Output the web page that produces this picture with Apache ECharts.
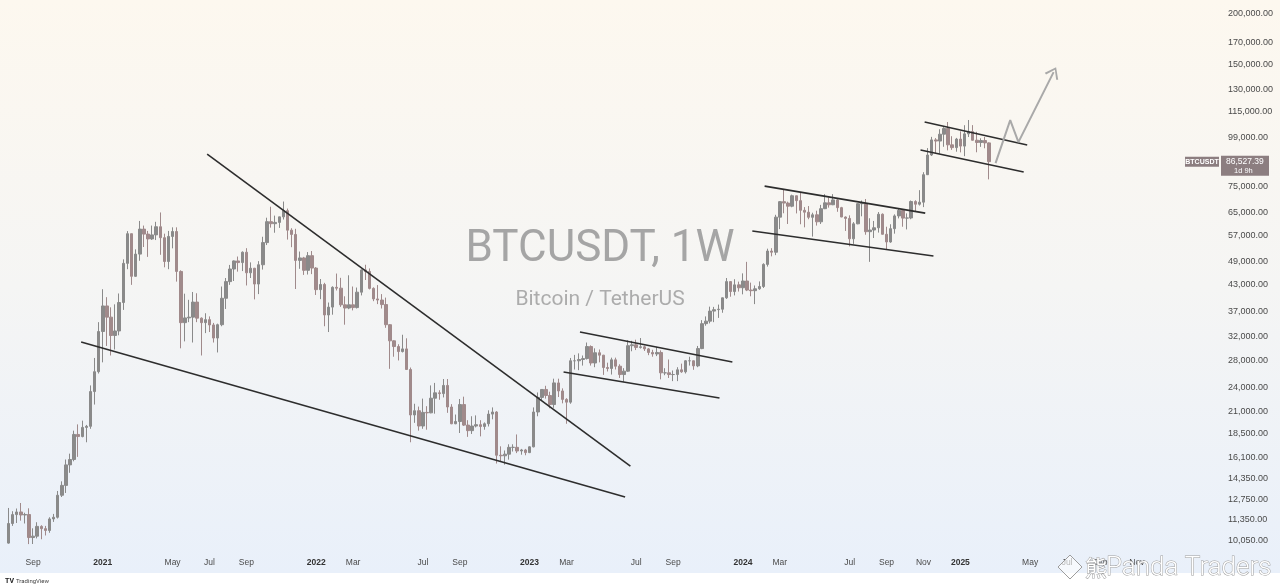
<!DOCTYPE html>
<html>
<head>
<meta charset="utf-8">
<title>BTCUSDT 1W</title>
<script src="https://cdn.jsdelivr.net/npm/echarts@6/dist/echarts.min.js"></script>
<style>
  html, body { margin: 0; padding: 0; background: #fff; }
  #chart { width: 1280px; height: 588px; }
</style>
</head>
<body>
<div id="chart"></div>
<script>
// weekly candles [open, high, low, close], one row per week, first week opens Mon 2020-07-27
const candles2020 = [
  [9930, 12123, 9900, 11100], [11100, 11900, 10950, 11675], [11675, 12085, 11130, 11850],
  [11850, 12470, 11280, 11650], [11650, 11800, 11100, 11680], [11680, 12100, 9875, 10250],
  [10250, 10800, 9880, 10330], [10330, 11180, 10200, 10920], [10920, 10990, 10150, 10780],
  [10780, 10950, 10370, 10670], [10670, 11500, 10530, 11390], [11390, 11720, 11200, 11500],
  [11500, 13350, 11420, 13030], [13030, 14100, 12900, 13780], [13780, 15960, 13200, 15480],
  [15480, 16500, 14800, 15960], [15960, 18800, 15800, 18400], [18400, 19480, 16200, 18180],
  [18180, 19900, 18100, 19150], [19150, 19420, 17600, 19270], [19270, 24300, 19000, 23470],
  [23470, 28400, 21800, 26270], [26270, 34800, 26000, 33000]
]
const candles2021 = [
  [33000, 41950, 27700, 38150], [38150, 40100, 30400, 35800], [35800, 37850, 28800, 32260],
  [32260, 38500, 29800, 33100], [33100, 40950, 32300, 38900], [38900, 49700, 37300, 48580],
  [48580, 58350, 47000, 57490], [57490, 57500, 43000, 45140], [45140, 52600, 45000, 51200],
  [51200, 61800, 49300, 59000], [59000, 60200, 53300, 57350], [57350, 58400, 50400, 55800],
  [55800, 60200, 55500, 57100], [57100, 61500, 55450, 59800], [59800, 64850, 51000, 56200],
  [56200, 57500, 47500, 49100], [49100, 58400, 47000, 56600], [56600, 59600, 52900, 58200],
  [58200, 59600, 43800, 46400], [46400, 46700, 30000, 34700], [34700, 40900, 31200, 35650],
  [35650, 39500, 34800, 35800], [35800, 41300, 31000, 39000], [39000, 41000, 34800, 35600],
  [35600, 35750, 28800, 34700], [34700, 36600, 32700, 35300], [35300, 35950, 32900, 34250],
  [34250, 34650, 31000, 31800], [31800, 34500, 29300, 34300], [34300, 42600, 34000, 39850],
  [39850, 44700, 37500, 43800], [43800, 48150, 43000, 47050], [47050, 49400, 43950, 49250],
  [49250, 50500, 46350, 48800], [48800, 52000, 46500, 51750], [51750, 52950, 42850, 46050],
  [46050, 48850, 44700, 47250], [47250, 47350, 39600, 43200], [43200, 49200, 40800, 48200],
  [48200, 56500, 46900, 54660], [54660, 62950, 53900, 61550], [61550, 67000, 59500, 60850],
  [60850, 63700, 57800, 61300], [61300, 63300, 59400, 63250], [63250, 69000, 62300, 65500],
  [65500, 66300, 55600, 58650], [58650, 59300, 53250, 57250], [57250, 59100, 42000, 49400],
  [49400, 51950, 47100, 50100], [50100, 50400, 45500, 46700], [46700, 51800, 45600, 50750],
  [50750, 52100, 45700, 47300]
]
const candles2022 = [
  [47300, 47550, 40600, 41850], [41850, 44450, 39650, 43100], [43100, 43500, 34000, 36250],
  [36250, 38900, 32900, 37900], [37900, 42650, 36300, 42400], [42400, 45850, 41650, 42200],
  [42200, 44750, 37950, 38400], [38400, 40300, 34300, 37700], [37700, 45400, 37450, 38400],
  [38400, 42600, 37200, 37800], [37800, 42350, 37600, 41250], [41250, 46950, 40500, 46800],
  [46800, 48200, 44200, 46400], [46400, 47200, 41900, 42150], [42150, 42400, 39200, 39700],
  [39700, 42950, 38550, 39450], [39450, 40800, 37600, 38450], [38450, 40000, 33700, 34300],
  [34300, 34400, 26700, 31300], [31300, 31400, 28600, 30300], [30300, 30700, 28000, 29450],
  [29450, 32400, 29300, 29900], [29900, 31750, 26550, 26600], [26600, 26900, 17600, 20550],
  [20550, 21900, 19650, 21050], [21050, 21550, 18800, 19300], [19300, 22550, 19000, 20850],
  [20850, 21600, 18900, 20800], [20800, 24300, 20750, 22600], [22600, 24650, 20700, 23300],
  [23300, 23650, 22400, 23200], [23200, 25200, 22700, 24300], [24300, 25200, 20800, 21500],
  [21500, 21850, 19500, 19550], [19550, 20600, 19500, 19800], [19800, 22500, 18550, 21800],
  [21800, 22800, 19300, 19400], [19400, 19950, 18150, 18800], [18800, 20400, 18450, 19300],
  [19300, 20500, 19150, 19450], [19450, 19950, 18200, 19250], [19250, 19700, 18900, 19550],
  [19550, 21100, 19250, 20650], [20650, 21450, 20050, 20900], [20900, 21000, 15600, 16350],
  [16350, 17200, 15800, 16300], [16300, 16800, 15500, 16450], [16450, 17400, 15950, 17100],
  [17100, 17400, 16700, 17100], [17100, 18400, 16550, 16750], [16750, 16950, 16400, 16850],
  [16850, 16950, 16350, 16600]
]
const candles2023 = [
  [16600, 17200, 16550, 17150], [17150, 21450, 17100, 20900], [20900, 23350, 20400, 22700],
  [22700, 23800, 22300, 23750], [23750, 24250, 22550, 22950], [22950, 23450, 21350, 21800],
  [21800, 25250, 21400, 24650], [24650, 25250, 22750, 23550], [23550, 23900, 21950, 22450],
  [22450, 22600, 19550, 22100], [22100, 28400, 21900, 27950], [27950, 28900, 26600, 27950],
  [27950, 29150, 26500, 28150], [28150, 28800, 27200, 28300], [28300, 31000, 28150, 30300],
  [30300, 30500, 27200, 27600], [27600, 30000, 26950, 29250], [29250, 29800, 27700, 28850],
  [28850, 28900, 25800, 26900], [26900, 27650, 26300, 26750], [26750, 28450, 25850, 28100],
  [28100, 28450, 26600, 27100], [27100, 27400, 25350, 25850], [25850, 26800, 24800, 26350],
  [26350, 31400, 26250, 30450], [30450, 31300, 29500, 30600], [30600, 31500, 29700, 30150],
  [30150, 31800, 29950, 30250], [30250, 30450, 29550, 29900], [29900, 30050, 28850, 29300],
  [29300, 29750, 28600, 29050], [29050, 30250, 28700, 29300], [29300, 29650, 25150, 26100],
  [26100, 26800, 25750, 26100], [26100, 28150, 25350, 25850], [25850, 26450, 24900, 25850],
  [25850, 26950, 24900, 26550], [26550, 27500, 26100, 26250], [26250, 28050, 26000, 27950],
  [27950, 28600, 27200, 27950], [27950, 28000, 26550, 27150], [27150, 30400, 26950, 29950],
  [29950, 35200, 29850, 34500], [34500, 35950, 34100, 35000], [35000, 38000, 34550, 37050],
  [37050, 37950, 34800, 37350], [37350, 38450, 35650, 37450], [37450, 40000, 36700, 39950],
  [39950, 44700, 39700, 43800], [43800, 43850, 40200, 41400], [41400, 44400, 40500, 43000],
  [43000, 43800, 41400, 42300]
]
const candles2024 = [
  [42300, 45900, 40750, 43950], [43950, 49000, 41500, 41750], [41750, 43550, 40300, 41600],
  [41600, 42850, 38550, 42050], [42050, 43850, 41800, 42600], [42600, 48600, 42250, 48300],
  [48300, 52800, 47700, 52100], [52100, 52950, 50550, 51750], [51750, 64000, 50900, 63150],
  [63150, 69200, 59000, 68950], [68950, 73800, 64550, 68400], [68400, 68950, 60750, 67200],
  [67200, 71750, 66800, 71300], [71300, 71350, 64500, 69350], [69350, 72800, 60650, 65650],
  [65650, 66850, 59600, 64950], [64950, 67250, 62400, 63100], [63100, 64750, 56550, 64000],
  [64000, 65500, 60200, 61500], [61500, 67700, 60750, 66250], [66250, 71950, 66100, 68500],
  [68500, 70600, 66650, 67750], [67750, 71950, 67600, 69650], [69650, 70200, 65100, 66650],
  [66650, 66950, 63150, 63200], [63200, 63400, 58400, 62700], [62700, 63800, 53500, 55850],
  [55850, 61400, 54250, 60800], [60800, 68350, 60650, 68150], [68150, 69400, 63450, 68250],
  [68250, 70000, 57150, 58150], [58150, 62750, 49000, 58700], [58700, 61800, 56100, 59450],
  [59450, 65000, 57850, 64200], [64200, 64500, 57200, 57300], [57300, 59800, 52550, 54850],
  [54850, 60650, 54600, 59150], [59150, 64150, 57500, 63600], [63600, 66500, 62700, 65600],
  [65600, 65650, 59800, 62800], [62800, 64500, 58900, 62850], [62850, 69400, 62400, 69000],
  [69000, 69500, 65050, 67950], [67950, 73600, 67450, 68750], [68750, 81500, 66850, 80350],
  [80350, 93450, 80200, 89850], [89850, 99600, 89350, 97900], [97900, 98900, 90800, 97250],
  [97250, 104000, 90500, 101100], [101100, 105250, 94150, 104450], [104450, 108350, 92250, 95200],
  [95200, 99950, 92500, 93700], [93700, 99000, 91550, 98350]
]
const candles2025 = [
  [98350, 102750, 91200, 94500], [94500, 106400, 89250, 101300], [101300, 109600, 99500, 102600],
  [102600, 106450, 97500, 97700], [97700, 102500, 91250, 96450], [96450, 98800, 94100, 97550],
  [97550, 99500, 93350, 96250], [96250, 96500, 78250, 86527.39]
]
const firstWeek = '2020-07-27'
const lastPrice = 86527.39

// drawn trend lines, each [[date, price], [date, price]]
const trendLines = [
  [['2020-11-28', 31090], ['2023-06-14', 12900]],
  [['2021-07-01', 90350], ['2023-06-23', 15380]],
  [['2023-03-29', 32900], ['2023-12-14', 27750]],
  [['2023-03-01', 26220], ['2023-11-22', 22620]],
  [['2024-02-07', 75320], ['2024-11-07', 64620]],
  [['2024-01-17', 58350], ['2024-11-21', 50640]],
  [['2024-11-06', 108350], ['2025-04-30', 95070]],
  [['2024-10-30', 92410], ['2025-04-24', 81590]]
]
// projected path (grey arrow)
const projection = [['2025-03-07', 85830], ['2025-04-01', 109550], ['2025-04-15', 96690], ['2025-06-14', 143800]]

const priceTicks = [10050, 11350, 12750, 14350, 16100, 18500, 21000, 24000, 28000, 32000, 37000,
  43000, 49000, 57000, 65000, 75000, 99000, 115000, 130000, 150000, 170000, 200000]
// first weekly bar of each labelled month
const timeTicks = ['2020-09-07', '2021-01-04', '2021-05-03', '2021-07-05', '2021-09-06',
  '2022-01-03', '2022-03-07', '2022-07-04', '2022-09-05', '2023-01-02', '2023-03-06',
  '2023-07-03', '2023-09-04', '2024-01-01', '2024-03-04', '2024-07-01', '2024-09-02',
  '2024-11-04', '2025-01-06', '2025-05-05', '2025-07-07', '2025-09-01', '2025-11-03']
const monthNames = ['Jan', 'Feb', 'Mar', 'Apr', 'May', 'Jun', 'Jul', 'Aug', 'Sep', 'Oct', 'Nov', 'Dec']

const WEEK = 7 * 24 * 3600 * 1000
const toTs = (d) => new Date(d + 'T00:00:00Z').getTime()
const allCandles = [].concat(candles2020, candles2021, candles2022, candles2023, candles2024, candles2025)
const t0 = toTs(firstWeek)
// echarts order: x, open, close, low, high
const candleData = allCandles.map((c, i) => [t0 + i * WEEK, c[0], c[3], c[2], c[1]])

const chart = echarts.init(document.getElementById('chart'))

const lineSeries = trendLines.map((seg) => ({
  type: 'line',
  data: seg.map((p) => [toTs(p[0]), p[1]]),
  symbol: 'none',
  silent: true,
  z: 5,
  lineStyle: { color: '#2d2d2d', width: 1.6 },
}))

const arrowData = projection.map((p, i) => {
  const item = { value: [toTs(p[0]), p[1]] }
  if (i === projection.length - 1) {
    item.symbol = 'path://M0,9 L5,0 L10,9 L8.8,9.8 L5,2.4 L1.2,9.8 Z'
    item.symbolSize = [15, 11]
    item.symbolRotate = -27
  }
  return item
})

const baseGraphic = [
  {
    type: 'rect',
    z: -10,
    silent: true,
    shape: { x: 0, y: 0, width: 1280, height: 573 },
    style: {
      fill: new echarts.graphic.LinearGradient(0, 0, 0, 1, [
        { offset: 0, color: '#fdf8ef' },
        { offset: 0.5, color: '#f5f5f4' },
        { offset: 1, color: '#e9f0fa' },
      ]),
    },
  },
  {
    type: 'text',
    z: -5,
    x: 600,
    y: 250,
    style: {
      text: 'BTCUSDT, 1W',
      font: '44px Roboto',
      fill: '#a5a5a5',
      textAlign: 'center',
      textVerticalAlign: 'middle',
    },
  },
  {
    type: 'text',
    z: -5,
    x: 600,
    y: 300,
    style: {
      text: 'Bitcoin / TetherUS',
      font: '21px Roboto',
      fill: '#acacac',
      textAlign: 'center',
      textVerticalAlign: 'middle',
    },
  },
  {
    type: 'text',
    x: 5,
    y: 581,
    style: { text: 'TV', font: 'bold 7px Roboto', fill: '#222', textVerticalAlign: 'middle' },
  },
  {
    type: 'text',
    x: 16,
    y: 581,
    style: { text: 'TradingView', font: '6px Roboto', fill: '#444', textVerticalAlign: 'middle' },
  },
  {
    type: 'polygon',
    z: 20,
    shape: { points: [[1070, 555], [1082, 567], [1070, 579], [1058, 567]] },
    style: { fill: 'rgba(255,255,255,0.6)', stroke: '#9d9d9d', lineWidth: 1 },
  },
  {
    type: 'text',
    z: 20,
    x: 1085,
    y: 568,
    style: {
      text: '熊',
      font: '22px "Noto Sans CJK SC"',
      fill: '#ffffff',
      stroke: '#9d9d9d',
      lineWidth: 1,
      textVerticalAlign: 'middle',
    },
  },
  {
    type: 'text',
    z: 20,
    x: 1106,
    y: 568,
    style: {
      text: 'Panda Traders',
      font: '300 26px Roboto',
      fill: '#ffffff',
      stroke: '#9d9d9d',
      lineWidth: 1,
      textVerticalAlign: 'middle',
    },
  },
]

const option = {
  backgroundColor: '#ffffff',
  animation: false,
  graphic: baseGraphic,
  grid: { left: 0, right: 58, top: 0, bottom: 40 },
  xAxis: {
    type: 'value',
    min: Date.UTC(2020, 6, 12, 14),
    max: Date.UTC(2026, 2, 28, 7),
    axisLine: { show: false },
    axisTick: { show: false },
    splitLine: { show: false },
    axisLabel: {
      customValues: timeTicks.map(toTs),
      margin: 10,
      fontSize: 8.5,
      fontFamily: 'Liberation Sans',
      color: '#4a4a4a',
      formatter: (v) => {
        const d = new Date(v)
        if (d.getUTCMonth() === 0) return '{y|' + d.getUTCFullYear() + '}'
        return monthNames[d.getUTCMonth()]
      },
      rich: { y: { fontWeight: 'bold', fontSize: 8.5, color: '#333', fontFamily: 'Liberation Sans' } },
    },
  },
  yAxis: {
    type: 'log',
    position: 'right',
    min: 9659,
    max: 216546,
    axisLine: { show: false },
    axisTick: { show: false },
    splitLine: { show: false },
    axisLabel: {
      customValues: priceTicks,
      margin: 6,
      fontSize: 9,
      fontFamily: 'Liberation Sans',
      color: '#4a4a4a',
      align: 'left',
      formatter: (v) => Number(v).toLocaleString('en-US', { minimumFractionDigits: 2, maximumFractionDigits: 2 }),
    },
  },
  series: [
    {
      type: 'candlestick',
      data: candleData,
      encode: { x: 0, y: [1, 2, 3, 4] },
      barWidth: 3,
      z: 3,
      itemStyle: {
        color: '#8a8a8a',
        color0: '#a08a8b',
        borderColor: '#8a8a8a',
        borderColor0: '#a08a8b',
        borderWidth: 1,
      },
    },
    ...lineSeries,
    {
      type: 'line',
      data: arrowData,
      symbol: 'none',
      showSymbol: true,
      silent: true,
      z: 5,
      itemStyle: { color: '#a9a9a9' },
      lineStyle: { color: '#a9a9a9', width: 2 },
    },
  ],
}

chart.setOption(option)

// symbol / price tag on the right, placed at the last close
const py = chart.convertToPixel({ yAxisIndex: 0 }, lastPrice)
chart.setOption({
  graphic: baseGraphic.concat([
    {
      type: 'rect',
      z: 30,
      shape: { x: 1185, y: py - 5, width: 34, height: 10 },
      style: { fill: '#8c7e80' },
    },
    {
      type: 'text',
      z: 31,
      x: 1202,
      y: py,
      style: { text: 'BTCUSDT', font: 'bold 7px Liberation Sans', fill: '#fff', textAlign: 'center', textVerticalAlign: 'middle' },
    },
    {
      type: 'rect',
      z: 30,
      shape: { x: 1221, y: py - 6, width: 48, height: 20 },
      style: { fill: '#8c7e80' },
    },
    {
      type: 'text',
      z: 31,
      x: 1226,
      y: py + 0.5,
      style: { text: lastPrice.toLocaleString('en-US', { minimumFractionDigits: 2 }), font: '8.5px Liberation Sans', fill: '#fff', textVerticalAlign: 'middle' },
    },
    {
      type: 'text',
      z: 31,
      x: 1234,
      y: py + 9,
      style: { text: '1d 9h', font: '7.5px Liberation Sans', fill: '#fff', textVerticalAlign: 'middle' },
    },
  ]),
})
</script>
</body>
</html>
